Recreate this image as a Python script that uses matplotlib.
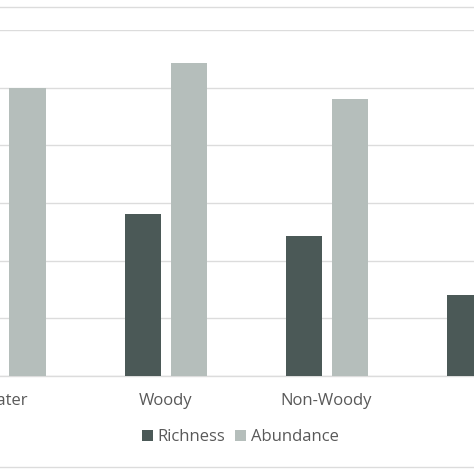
import matplotlib
matplotlib.use("Agg")
import matplotlib.pyplot as plt
from matplotlib.lines import Line2D
import numpy as np

categories = ["Water", "Woody", "Non-Woody", "Bare"]
# label of the 4th group lies outside the cropped picture
tick_labels = ["Water", "Woody", "Non-Woody", ""]
richness = [30, 28.1, 24.3, 14.1]
abundance = [50, 54.2, 48.0, 30]
y_ticks = [0, 10, 20, 30, 40, 50, 60]

dark = "#4b5957"
light = "#b5bebb"
grid_col = "#dcdcdc"
text_col = "#595959"

plt.rcParams["font.family"] = ["Open Sans", "DejaVu Sans"]

fig = plt.figure(figsize=(4.74, 4.74), dpi=100)
# plot area is wider than the picture: it is cropped on both sides
ax = fig.add_axes([-76 / 474, 98 / 474, 644 / 474, 346 / 474])

x = np.arange(len(categories))
w = 36 / 161
off = 23 / 161
ax.bar(x - off, richness, w, color=dark, label="Richness", zorder=3)
ax.bar(x + off, abundance, w, color=light, label="Abundance", zorder=3)

ax.set_xlim(-0.5, len(categories) - 0.5)
ax.set_ylim(0, 60)
ax.set_yticks(y_ticks)
ax.yaxis.grid(True, color=grid_col, linewidth=1.0, zorder=0)
ax.tick_params(axis="y", length=0, labelleft=False)
ax.tick_params(axis="x", length=0, pad=12, labelsize=12, colors=text_col)
ax.set_xticks(x)
ax.set_xticklabels(tick_labels)
for s in ["top", "left", "right"]:
    ax.spines[s].set_visible(False)
ax.spines["bottom"].set_color(grid_col)
ax.spines["bottom"].set_linewidth(1.0)

fig.legend(loc="center", bbox_to_anchor=(0.507, 1 - 437 / 474), ncol=2,
           frameon=False, fontsize=12, labelcolor=text_col,
           handlelength=0.62, handleheight=0.62, handletextpad=0.3,
           columnspacing=0.6)

# chart border lines
for yy in [7, 467]:
    fig.add_artist(Line2D([0, 1], [1 - yy / 474] * 2, color=grid_col,
                          linewidth=1.0, transform=fig.transFigure))

fig.savefig("out.png", dpi=100)
